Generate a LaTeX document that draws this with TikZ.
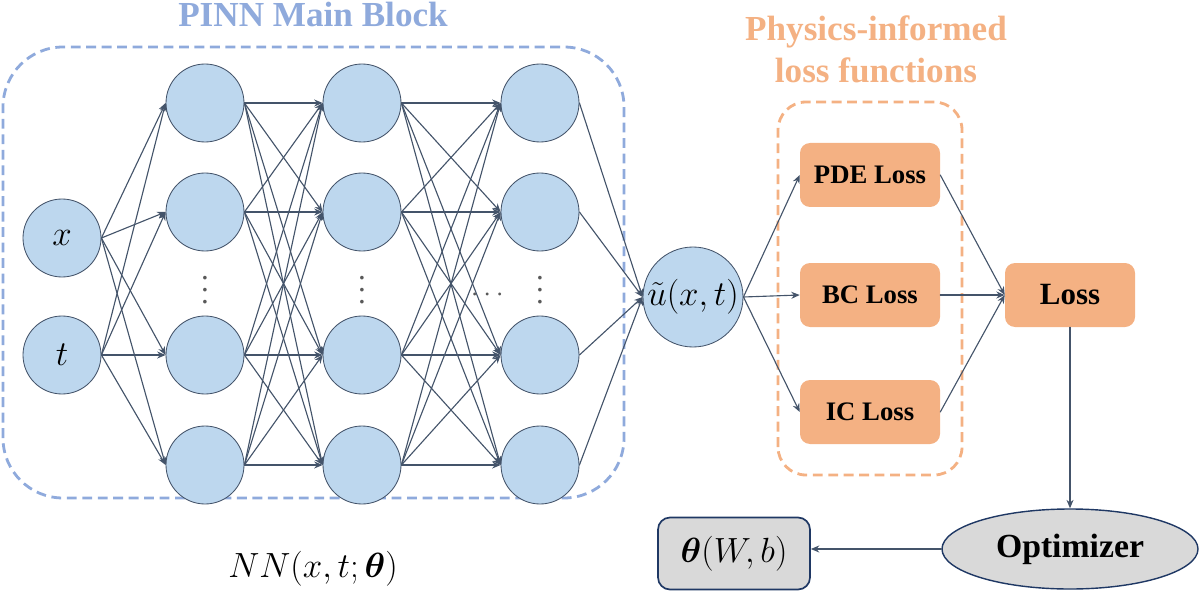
\documentclass[tikz,border=0pt]{standalone}
\usepackage{amsmath}
\usepackage{fontspec}
\setmainfont{Liberation Serif}
\usetikzlibrary{arrows.meta,shapes.geometric}
\definecolor{nnblue}{HTML}{BDD7EE}
\definecolor{boxblue}{HTML}{8FAADC}
\definecolor{lossorange}{HTML}{F4B183}
\definecolor{edgegray}{HTML}{44546A}
\definecolor{dotgray}{HTML}{595959}
\definecolor{optgray}{HTML}{D9D9D9}
\definecolor{optnavy}{HTML}{1F3864}
\begin{document}
\begin{tikzpicture}[scale=1, line join=round, line cap=round, >={Stealth[length=6pt,width=5pt]},
	neuron/.style={circle, draw=edgegray, line width=0.6pt, fill=nnblue, minimum size=1.95cm, inner sep=0pt, font=\fontsize{24}{28}\selectfont},
	lossbox/.style={rectangle, rounded corners=0.25cm, fill=lossorange, minimum width=3.5cm, minimum height=1.6cm, font=\bfseries\fontsize{19}{22}\selectfont},
	link/.style={->, draw=edgegray, line width=0.8pt},
	dotmark/.style={text=dotgray, inner sep=0pt, font=\fontsize{10}{12}\selectfont},
	blockframe/.style={line width=2pt, line cap=butt, dash pattern=on 7pt off 4pt}]
	\useasboundingbox (0,0) rectangle (30,14.8);
	%% Khung va tieu de
	\draw[blockframe, boxblue, rounded corners=1.5cm] (0.075,2.35) rectangle (15.6,13.625);
	\draw[blockframe, lossorange, rounded corners=0.7cm] (19.45,2.925) rectangle (24.05,12.25);
	\node[text=boxblue, font=\bfseries\fontsize{25}{30}\selectfont, anchor=base] (titleNN) at (7.825,14.125) {PINN Main Block};
	\node[text=lossorange, font=\bfseries\fontsize{25}{30}\selectfont, align=center] (titleLoss) at (21.9,13.575) {Physics-informed\\loss functions};
	\node[font=\fontsize{24}{28}\selectfont, anchor=base] (labelNN) at (7.825,0.375) {$NN(x,t;\boldsymbol{\theta})$};
	%% Dau vao
	\node[neuron] (x) at (1.55,8.85) {$x$};
	\node[neuron] (t) at (1.55,5.925) {$t$};
	%% Cac lop an
	\foreach \c/\xx in {1/5.125,2/9.05,3/13.5}{
		\foreach \r/\yy in {1/12.225,2/9.5,3/5.925,4/3.175}
		\node[neuron] (h\c\r) at (\xx,\yy) {};
		\node[dotmark, scale=2.2] (vd\c) at (\xx,7.78) {$\vdots$};
	}
	\node[dotmark, scale=2] (hdots) at (12.24,7.43) {$\cdots$};
	%% Dau ra
	\node[neuron, minimum size=2.5cm] (u) at (17.325,7.375) {$\tilde{u}(x,t)$};
	%% Ham mat mat
	\node[lossbox] (pde) at (21.75,10.425) {PDE Loss};
	\node[lossbox] (bc) at (21.75,7.425) {BC Loss};
	\node[lossbox] (ic) at (21.75,4.5) {IC Loss};
	\node[lossbox, minimum width=3.25cm, font=\bfseries\fontsize{22}{26}\selectfont] (loss) at (26.75,7.425) {Loss};
	\node[ellipse, draw=optnavy, line width=1pt, fill=optgray, minimum width=6.4cm, minimum height=2cm, inner sep=0pt, font=\bfseries\fontsize{24}{28}\selectfont] (opt) at (26.75,1.075) {Optimizer};
	\node[rectangle, rounded corners=0.3cm, draw=optnavy, line width=1.2pt, fill=optgray, minimum width=3.8cm, minimum height=1.8cm, font=\fontsize{23}{26}\selectfont] (theta) at (18.35,0.9625) {$\boldsymbol{\theta}(W,b)$};
	%% Noi cac nut
	\foreach \v in {x,t}
	\foreach \r in {1,...,4}
	\draw[link] (\v.east)--(h1\r.west);
	\foreach \c/\n in {1/2,2/3}
	\foreach \r in {1,...,4}
	\foreach \s in {1,...,4}
	\draw[link] (h\c\r.east)--(h\n\s.west);
	\foreach \r in {1,...,4}
	\draw[link] (h3\r.east)--(u.west);
	\foreach \b in {pde,bc,ic}{
		\draw[link] (u.east)--(\b.west);
		\draw[link] (\b.east)--(loss.west);
	}
	\draw[link] (loss.south)--(opt.north);
	\draw[link] (opt.west)--(opt.west -| theta.east);
\end{tikzpicture}
\end{document}
